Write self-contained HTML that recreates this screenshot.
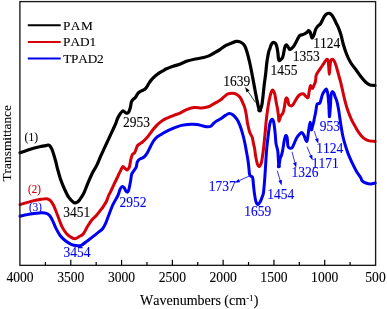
<!DOCTYPE html>
<html><head><meta charset="utf-8"><style>
html,body{margin:0;padding:0;background:#fff;width:387px;height:309px;overflow:hidden}
svg{display:block}
text{font-family:'Liberation Serif', 'Times New Roman', serif;font-kerning:none;stroke:currentColor;stroke-width:0.1px}
</style></head><body>
<svg width="387" height="309" viewBox="0 0 387 309">
<rect x="0" y="0" width="387" height="309" fill="#fff"/>
<g fill="none" stroke-linejoin="round" stroke-linecap="round">
<path d="M20.00 152.80 C20.97 152.47 23.55 151.57 25.80 150.80 C28.05 150.03 30.92 148.93 33.50 148.20 C36.08 147.47 39.25 146.83 41.30 146.40 C43.35 145.97 44.62 145.83 45.80 145.60 C46.98 145.37 47.67 144.88 48.40 145.00 C49.13 145.12 49.53 145.38 50.20 146.30 C50.87 147.22 51.50 148.05 52.40 150.50 C53.30 152.95 54.72 157.83 55.60 161.00 C56.48 164.17 56.83 166.33 57.70 169.50 C58.57 172.67 59.68 176.78 60.80 180.00 C61.92 183.22 63.10 185.93 64.40 188.80 C65.70 191.67 67.10 194.97 68.60 197.20 C70.10 199.43 72.25 201.27 73.40 202.20 C74.55 203.13 74.82 202.83 75.50 202.80 C76.18 202.77 76.80 202.52 77.50 202.00 C78.20 201.48 78.63 201.20 79.70 199.70 C80.77 198.20 82.48 195.88 83.90 193.00 C85.32 190.12 86.78 185.73 88.20 182.40 C89.62 179.07 91.00 175.80 92.40 173.00 C93.80 170.20 95.20 168.45 96.60 165.60 C98.00 162.75 99.35 159.13 100.80 155.90 C102.25 152.67 103.68 149.70 105.30 146.20 C106.92 142.70 108.75 138.72 110.50 134.90 C112.25 131.08 114.67 125.95 115.80 123.30 C116.93 120.65 116.58 120.57 117.30 119.00 C118.02 117.43 119.32 115.13 120.10 113.90 C120.88 112.67 121.43 112.08 122.00 111.60 C122.57 111.12 123.00 110.88 123.50 111.00 C124.00 111.12 124.53 111.95 125.00 112.30 C125.47 112.65 125.88 112.98 126.30 113.10 C126.72 113.22 127.12 113.15 127.50 113.00 C127.88 112.85 128.13 113.08 128.60 112.20 C129.07 111.32 129.83 109.40 130.30 107.70 C130.77 106.00 130.93 103.37 131.40 102.00 C131.87 100.63 132.43 100.25 133.10 99.50 C133.77 98.75 134.73 98.32 135.40 97.50 C136.07 96.68 136.53 95.45 137.10 94.60 C137.67 93.75 138.00 93.05 138.80 92.40 C139.60 91.75 140.90 91.22 141.90 90.70 C142.90 90.18 143.92 90.03 144.80 89.30 C145.68 88.57 146.48 87.35 147.20 86.30 C147.92 85.25 148.37 84.12 149.10 83.00 C149.83 81.88 150.70 80.65 151.60 79.60 C152.50 78.55 153.53 77.60 154.50 76.70 C155.47 75.80 156.43 74.93 157.40 74.20 C158.37 73.47 159.37 72.87 160.30 72.30 C161.23 71.73 161.97 71.38 163.00 70.80 C164.03 70.22 165.17 69.45 166.50 68.80 C167.83 68.15 168.93 67.63 171.00 66.90 C173.07 66.17 176.20 65.37 178.90 64.40 C181.60 63.43 184.43 62.00 187.20 61.10 C189.97 60.20 192.75 59.60 195.50 59.00 C198.25 58.40 201.47 58.02 203.70 57.50 C205.93 56.98 207.17 56.65 208.90 55.90 C210.63 55.15 212.20 54.10 214.10 53.00 C216.00 51.90 218.40 50.53 220.30 49.30 C222.20 48.07 223.80 46.55 225.50 45.60 C227.20 44.65 228.75 44.30 230.50 43.60 C232.25 42.90 234.40 41.68 236.00 41.40 C237.60 41.12 238.72 41.28 240.10 41.90 C241.48 42.52 243.15 43.42 244.30 45.10 C245.45 46.78 246.08 49.02 247.00 52.00 C247.92 54.98 248.83 58.65 249.80 63.00 C250.77 67.35 251.83 73.05 252.80 78.10 C253.77 83.15 254.68 88.57 255.60 93.30 C256.52 98.03 257.60 103.72 258.30 106.50 C259.00 109.28 259.18 110.37 259.80 110.00 C260.42 109.63 261.27 108.47 262.00 104.30 C262.73 100.13 263.58 90.13 264.20 85.00 C264.82 79.87 265.30 76.92 265.70 73.50 C266.10 70.08 266.28 67.15 266.60 64.50 C266.92 61.85 267.23 59.77 267.60 57.60 C267.97 55.43 268.42 53.00 268.80 51.50 C269.18 50.00 269.48 49.77 269.90 48.60 C270.32 47.43 270.82 45.50 271.30 44.50 C271.78 43.50 272.27 42.92 272.80 42.60 C273.33 42.28 273.93 42.27 274.50 42.60 C275.07 42.93 275.75 43.62 276.20 44.60 C276.65 45.58 276.92 47.10 277.20 48.50 C277.48 49.90 277.68 51.25 277.90 53.00 C278.12 54.75 278.27 57.72 278.50 59.00 C278.73 60.28 278.95 60.60 279.30 60.70 C279.65 60.80 280.12 60.00 280.60 59.60 C281.08 59.20 281.75 59.07 282.20 58.30 C282.65 57.53 282.97 56.38 283.30 55.00 C283.63 53.62 283.88 51.47 284.20 50.00 C284.52 48.53 284.83 47.07 285.20 46.20 C285.57 45.33 286.00 44.78 286.40 44.80 C286.80 44.82 287.23 45.80 287.60 46.30 C287.97 46.80 288.18 47.27 288.60 47.80 C289.02 48.33 289.32 49.67 290.10 49.50 C290.88 49.33 292.37 47.92 293.30 46.80 C294.23 45.68 294.88 44.28 295.70 42.80 C296.52 41.32 297.52 39.12 298.20 37.90 C298.88 36.68 299.13 36.03 299.80 35.50 C300.47 34.97 301.40 34.97 302.20 34.70 C303.00 34.43 303.78 34.30 304.60 33.90 C305.42 33.50 306.42 32.83 307.10 32.30 C307.78 31.77 308.17 30.67 308.70 30.70 C309.23 30.73 309.77 31.32 310.30 32.50 C310.83 33.68 311.33 37.30 311.90 37.80 C312.47 38.30 313.05 36.93 313.70 35.50 C314.35 34.07 315.10 30.77 315.80 29.20 C316.50 27.63 317.13 26.98 317.90 26.10 C318.67 25.22 319.70 24.78 320.40 23.90 C321.10 23.02 321.47 22.02 322.10 20.80 C322.73 19.58 323.43 17.77 324.20 16.60 C324.97 15.43 325.82 14.33 326.70 13.80 C327.58 13.27 328.58 13.12 329.50 13.40 C330.42 13.68 331.35 14.43 332.20 15.50 C333.05 16.57 333.87 18.38 334.60 19.80 C335.33 21.22 335.95 22.67 336.60 24.00 C337.25 25.33 337.78 26.03 338.50 27.80 C339.22 29.57 340.10 31.85 340.90 34.60 C341.70 37.35 342.37 41.07 343.30 44.30 C344.23 47.53 345.28 50.97 346.50 54.00 C347.72 57.03 349.02 59.87 350.60 62.50 C352.18 65.13 354.27 67.42 356.00 69.80 C357.73 72.18 359.37 74.72 361.00 76.80 C362.63 78.88 364.30 80.93 365.80 82.30 C367.30 83.67 368.47 84.47 370.00 85.00 C371.53 85.53 374.17 85.42 375.00 85.50" stroke="#000" stroke-width="3.2"/>
<path d="M20.00 204.60 C21.83 204.07 27.45 202.28 31.00 201.40 C34.55 200.52 38.67 199.75 41.30 199.30 C43.93 198.85 45.32 198.53 46.80 198.70 C48.28 198.87 49.10 199.25 50.20 200.30 C51.30 201.35 52.40 203.08 53.40 205.00 C54.40 206.92 55.22 209.30 56.20 211.80 C57.18 214.30 58.30 217.45 59.30 220.00 C60.30 222.55 61.02 224.87 62.20 227.10 C63.38 229.33 64.82 231.65 66.40 233.40 C67.98 235.15 70.18 236.73 71.70 237.60 C73.22 238.47 74.25 238.77 75.50 238.60 C76.75 238.43 77.88 237.42 79.20 236.60 C80.52 235.78 82.00 235.42 83.40 233.70 C84.80 231.98 86.20 228.58 87.60 226.30 C89.00 224.02 90.38 221.75 91.80 220.00 C93.22 218.25 94.68 217.38 96.10 215.80 C97.52 214.22 99.08 212.08 100.30 210.50 C101.52 208.92 102.35 207.88 103.40 206.30 C104.45 204.72 105.77 202.72 106.60 201.00 C107.43 199.28 107.58 197.85 108.40 196.00 C109.22 194.15 110.57 191.85 111.50 189.90 C112.43 187.95 113.23 185.95 114.00 184.30 C114.77 182.65 115.55 181.13 116.10 180.00 C116.65 178.87 116.83 178.50 117.30 177.50 C117.77 176.50 118.38 175.08 118.90 174.00 C119.42 172.92 119.92 171.95 120.40 171.00 C120.88 170.05 121.37 169.03 121.80 168.30 C122.23 167.57 122.47 166.58 123.00 166.60 C123.53 166.62 124.35 167.82 125.00 168.40 C125.65 168.98 126.33 170.07 126.90 170.10 C127.47 170.13 127.98 169.12 128.40 168.60 C128.82 168.08 129.00 168.50 129.40 167.00 C129.80 165.50 130.32 161.65 130.80 159.60 C131.28 157.55 131.65 155.87 132.30 154.70 C132.95 153.53 134.05 153.58 134.70 152.60 C135.35 151.62 135.72 149.98 136.20 148.80 C136.68 147.62 136.97 146.35 137.60 145.50 C138.23 144.65 139.22 144.25 140.00 143.70 C140.78 143.15 141.62 142.73 142.30 142.20 C142.98 141.67 143.27 141.32 144.10 140.50 C144.93 139.68 146.25 138.52 147.30 137.30 C148.35 136.08 149.37 134.58 150.40 133.20 C151.43 131.82 152.48 130.27 153.50 129.00 C154.52 127.73 155.47 126.67 156.50 125.60 C157.53 124.53 158.40 123.63 159.70 122.60 C161.00 121.57 162.58 120.35 164.30 119.40 C166.02 118.45 168.22 117.67 170.00 116.90 C171.78 116.13 173.33 115.42 175.00 114.80 C176.67 114.18 178.17 114.02 180.00 113.20 C181.83 112.38 183.70 110.83 186.00 109.90 C188.30 108.97 191.22 107.93 193.80 107.60 C196.38 107.27 199.43 107.95 201.50 107.90 C203.57 107.85 204.78 107.60 206.20 107.30 C207.62 107.00 208.53 106.80 210.00 106.10 C211.47 105.40 213.33 104.07 215.00 103.10 C216.67 102.13 218.45 101.38 220.00 100.30 C221.55 99.22 222.97 97.67 224.30 96.60 C225.63 95.53 226.70 94.45 228.00 93.90 C229.30 93.35 230.73 93.25 232.10 93.30 C233.47 93.35 234.85 93.50 236.20 94.20 C237.55 94.90 239.07 95.97 240.20 97.50 C241.33 99.03 242.22 101.63 243.00 103.40 C243.78 105.17 244.32 105.97 244.90 108.10 C245.48 110.23 246.03 113.50 246.50 116.20 C246.97 118.90 247.15 121.60 247.70 124.30 C248.25 127.00 249.05 130.25 249.80 132.40 C250.55 134.55 251.58 135.32 252.20 137.20 C252.82 139.08 253.10 141.82 253.50 143.70 C253.90 145.58 254.23 146.37 254.60 148.50 C254.97 150.63 255.22 153.88 255.70 156.50 C256.18 159.12 256.88 162.53 257.50 164.20 C258.12 165.87 258.75 166.77 259.40 166.50 C260.05 166.23 260.87 164.43 261.40 162.60 C261.93 160.77 262.23 157.93 262.60 155.50 C262.97 153.07 263.27 150.92 263.60 148.00 C263.93 145.08 264.30 141.00 264.60 138.00 C264.90 135.00 265.18 132.35 265.40 130.00 C265.62 127.65 265.62 126.65 265.90 123.90 C266.18 121.15 266.68 116.75 267.10 113.50 C267.52 110.25 267.87 107.42 268.40 104.40 C268.93 101.38 269.77 97.55 270.30 95.40 C270.83 93.25 271.17 92.37 271.60 91.50 C272.03 90.63 272.37 89.77 272.90 90.20 C273.43 90.63 274.27 92.17 274.80 94.10 C275.33 96.03 275.67 99.43 276.10 101.80 C276.53 104.17 277.00 105.92 277.40 108.30 C277.80 110.68 278.23 113.93 278.50 116.10 C278.77 118.27 278.63 121.30 279.00 121.30 C279.37 121.30 280.03 117.52 280.70 116.10 C281.37 114.68 282.40 114.23 283.00 112.80 C283.60 111.37 283.82 109.87 284.30 107.50 C284.78 105.13 285.35 100.00 285.90 98.60 C286.45 97.20 287.13 98.15 287.60 99.10 C288.07 100.05 288.17 103.17 288.70 104.30 C289.23 105.43 290.13 105.77 290.80 105.90 C291.47 106.03 291.97 105.92 292.70 105.10 C293.43 104.28 294.38 102.35 295.20 101.00 C296.02 99.65 296.80 98.07 297.60 97.00 C298.40 95.93 299.05 95.13 300.00 94.60 C300.95 94.07 302.35 93.53 303.30 93.80 C304.25 94.07 304.90 95.58 305.70 96.20 C306.50 96.82 307.52 98.32 308.10 97.50 C308.68 96.68 308.80 93.27 309.20 91.30 C309.60 89.33 310.00 86.17 310.50 85.70 C311.00 85.23 311.70 88.37 312.20 88.50 C312.70 88.63 312.97 87.65 313.50 86.50 C314.03 85.35 314.93 83.52 315.40 81.60 C315.87 79.68 315.68 76.87 316.30 75.00 C316.92 73.13 318.13 71.90 319.10 70.40 C320.07 68.90 321.25 67.25 322.10 66.00 C322.95 64.75 323.43 64.02 324.20 62.90 C324.97 61.78 326.03 59.62 326.70 59.30 C327.37 58.98 327.85 59.55 328.20 61.00 C328.55 62.45 328.62 65.78 328.80 68.00 C328.98 70.22 329.12 74.30 329.30 74.30 C329.48 74.30 329.68 70.13 329.90 68.00 C330.12 65.87 330.32 62.92 330.60 61.50 C330.88 60.08 331.18 59.82 331.60 59.50 C332.02 59.18 332.48 58.93 333.10 59.60 C333.72 60.27 334.60 61.77 335.30 63.50 C336.00 65.23 336.65 67.75 337.30 70.00 C337.95 72.25 338.60 74.82 339.20 77.00 C339.80 79.18 340.17 80.10 340.90 83.10 C341.63 86.10 342.87 91.83 343.60 95.00 C344.33 98.17 344.57 99.43 345.30 102.10 C346.03 104.77 346.95 108.03 348.00 111.00 C349.05 113.97 350.27 117.08 351.60 119.90 C352.93 122.72 354.82 125.82 356.00 127.90 C357.18 129.98 357.80 131.07 358.70 132.40 C359.60 133.73 360.37 134.78 361.40 135.90 C362.43 137.02 363.57 138.27 364.90 139.10 C366.23 139.93 367.70 140.52 369.40 140.90 C371.10 141.28 374.15 141.32 375.10 141.40" stroke="#d4000a" stroke-width="3"/>
<path d="M20.00 216.20 C21.77 215.85 27.07 214.67 30.60 214.10 C34.13 213.53 38.57 212.92 41.20 212.80 C43.83 212.68 45.00 212.95 46.40 213.40 C47.80 213.85 48.55 214.27 49.60 215.50 C50.65 216.73 51.65 218.68 52.70 220.80 C53.75 222.92 54.67 225.75 55.90 228.20 C57.13 230.65 58.52 233.40 60.10 235.50 C61.68 237.60 63.47 239.28 65.40 240.80 C67.33 242.32 69.90 243.80 71.70 244.60 C73.50 245.40 74.60 245.48 76.20 245.60 C77.80 245.72 79.40 246.12 81.30 245.30 C83.20 244.48 85.50 242.27 87.60 240.70 C89.70 239.13 92.13 237.30 93.90 235.90 C95.67 234.50 96.78 233.45 98.20 232.30 C99.62 231.15 101.18 230.43 102.40 229.00 C103.62 227.57 104.45 225.98 105.50 223.70 C106.55 221.42 107.47 218.47 108.70 215.30 C109.93 212.13 111.37 208.00 112.90 204.70 C114.43 201.40 116.72 198.03 117.90 195.50 C119.08 192.97 119.30 190.98 120.00 189.50 C120.70 188.02 121.40 186.88 122.10 186.60 C122.80 186.32 123.50 186.97 124.20 187.80 C124.90 188.63 125.60 191.07 126.30 191.60 C127.00 192.13 127.70 192.68 128.40 191.00 C129.10 189.32 129.97 184.25 130.50 181.50 C131.03 178.75 131.07 176.25 131.60 174.50 C132.13 172.75 132.93 172.23 133.70 171.00 C134.47 169.77 135.63 168.50 136.20 167.10 C136.77 165.70 136.70 163.78 137.10 162.60 C137.50 161.42 138.07 160.63 138.60 160.00 C139.13 159.37 139.38 159.30 140.30 158.80 C141.22 158.30 142.93 157.98 144.10 157.00 C145.27 156.02 146.25 154.62 147.30 152.90 C148.35 151.18 149.37 148.68 150.40 146.70 C151.43 144.72 152.47 142.57 153.50 141.00 C154.53 139.43 155.40 138.35 156.60 137.30 C157.80 136.25 159.30 135.57 160.70 134.70 C162.10 133.83 162.85 133.20 165.00 132.10 C167.15 131.00 170.87 129.22 173.60 128.10 C176.33 126.98 178.55 126.03 181.40 125.40 C184.25 124.77 188.12 124.45 190.70 124.30 C193.28 124.15 194.83 124.22 196.90 124.50 C198.97 124.78 201.30 125.62 203.10 126.00 C204.90 126.38 206.42 126.77 207.70 126.80 C208.98 126.83 209.77 126.82 210.80 126.20 C211.83 125.58 212.87 124.00 213.90 123.10 C214.93 122.20 215.95 121.47 217.00 120.80 C218.05 120.13 218.80 120.00 220.20 119.10 C221.60 118.20 223.90 116.32 225.40 115.40 C226.90 114.48 227.92 113.67 229.20 113.60 C230.48 113.53 231.80 114.03 233.10 115.00 C234.40 115.97 235.92 117.80 237.00 119.40 C238.08 121.00 238.73 122.43 239.60 124.60 C240.47 126.77 241.33 129.38 242.20 132.40 C243.07 135.42 244.07 139.35 244.80 142.70 C245.53 146.05 246.13 149.95 246.60 152.50 C247.07 155.05 247.30 156.17 247.60 158.00 C247.90 159.83 248.15 161.50 248.40 163.50 C248.65 165.50 248.92 168.22 249.10 170.00 C249.28 171.78 249.27 173.22 249.50 174.20 C249.73 175.18 250.02 175.43 250.50 175.90 C250.98 176.37 251.98 176.32 252.40 177.00 C252.82 177.68 252.78 178.30 253.00 180.00 C253.22 181.70 253.45 184.87 253.70 187.20 C253.95 189.53 254.13 191.62 254.50 194.00 C254.87 196.38 255.33 199.77 255.90 201.50 C256.47 203.23 257.15 204.40 257.90 204.40 C258.65 204.40 259.67 202.80 260.40 201.50 C261.13 200.20 261.82 197.90 262.30 196.60 C262.78 195.30 263.03 195.00 263.30 193.70 C263.57 192.40 263.67 191.23 263.90 188.80 C264.13 186.37 264.42 182.98 264.70 179.10 C264.98 175.22 265.28 170.35 265.60 165.50 C265.92 160.65 266.17 155.00 266.60 150.00 C267.03 145.00 267.67 139.85 268.20 135.50 C268.73 131.15 269.18 126.58 269.80 123.90 C270.42 121.22 271.25 119.70 271.90 119.40 C272.55 119.10 273.17 119.87 273.70 122.10 C274.23 124.33 274.72 129.23 275.10 132.80 C275.48 136.37 275.57 140.53 276.00 143.50 C276.43 146.47 277.32 148.10 277.70 150.60 C278.08 153.10 278.12 155.90 278.30 158.50 C278.48 161.10 278.58 165.62 278.80 166.20 C279.02 166.78 279.35 163.40 279.60 162.00 C279.85 160.60 280.02 158.82 280.30 157.80 C280.58 156.78 280.92 157.10 281.30 155.90 C281.68 154.70 282.08 153.27 282.60 150.60 C283.12 147.93 283.87 142.42 284.40 139.90 C284.93 137.38 285.33 135.80 285.80 135.50 C286.27 135.20 286.85 136.35 287.20 138.10 C287.55 139.85 287.53 144.37 287.90 146.00 C288.27 147.63 288.72 147.58 289.40 147.90 C290.08 148.22 291.27 148.48 292.00 147.90 C292.73 147.32 293.05 146.03 293.80 144.40 C294.55 142.77 295.62 139.73 296.50 138.10 C297.38 136.47 298.22 135.52 299.10 134.60 C299.98 133.68 301.00 132.48 301.80 132.60 C302.60 132.72 303.22 134.02 303.90 135.30 C304.58 136.58 305.35 139.43 305.90 140.30 C306.45 141.17 306.72 142.27 307.20 140.50 C307.68 138.73 308.32 132.73 308.80 129.70 C309.28 126.67 309.75 122.45 310.10 122.30 C310.45 122.15 310.63 127.58 310.90 128.80 C311.17 130.02 311.43 130.02 311.70 129.60 C311.97 129.18 312.15 127.65 312.50 126.30 C312.85 124.95 313.45 123.02 313.80 121.50 C314.15 119.98 314.28 118.78 314.60 117.20 C314.92 115.62 315.30 114.15 315.70 112.00 C316.10 109.85 316.38 105.72 317.00 104.30 C317.62 102.88 318.82 103.97 319.40 103.50 C319.98 103.03 320.00 102.97 320.50 101.50 C321.00 100.03 321.65 96.58 322.40 94.70 C323.15 92.82 324.30 91.08 325.00 90.20 C325.70 89.32 326.13 88.77 326.60 89.40 C327.07 90.03 327.43 91.50 327.80 94.00 C328.17 96.50 328.53 100.63 328.80 104.40 C329.07 108.17 329.15 116.00 329.40 116.60 C329.65 117.20 330.02 111.65 330.30 108.00 C330.58 104.35 330.75 97.43 331.10 94.70 C331.45 91.97 331.92 91.80 332.40 91.60 C332.88 91.40 333.55 92.63 334.00 93.50 C334.45 94.37 334.62 95.48 335.10 96.80 C335.58 98.12 336.32 99.27 336.90 101.40 C337.48 103.53 338.12 106.88 338.60 109.60 C339.08 112.32 339.37 114.80 339.80 117.70 C340.23 120.60 340.73 124.12 341.20 127.00 C341.67 129.88 342.05 132.38 342.60 135.00 C343.15 137.62 343.62 139.68 344.50 142.70 C345.38 145.72 346.68 149.87 347.90 153.10 C349.12 156.33 350.38 159.08 351.80 162.10 C353.22 165.12 354.90 168.60 356.40 171.20 C357.90 173.80 359.87 176.12 360.80 177.70 C361.73 179.28 361.17 179.82 362.00 180.70 C362.83 181.58 364.35 182.45 365.80 183.00 C367.25 183.55 369.13 184.00 370.70 184.00 C372.27 184.00 374.45 183.17 375.20 183.00" stroke="#0000f0" stroke-width="3"/>
</g>
<rect x="19.9" y="1.6" width="355.7" height="263.75" fill="none" stroke="#1a1a1a" stroke-width="1.35"/>
<g stroke="#000" stroke-width="1.2"><line x1="350.11" y1="265.3" x2="350.11" y2="262.0"/><line x1="324.71" y1="265.3" x2="324.71" y2="259.8"/><line x1="299.32" y1="265.3" x2="299.32" y2="262.0"/><line x1="273.93" y1="265.3" x2="273.93" y2="259.8"/><line x1="248.54" y1="265.3" x2="248.54" y2="262.0"/><line x1="223.14" y1="265.3" x2="223.14" y2="259.8"/><line x1="197.75" y1="265.3" x2="197.75" y2="262.0"/><line x1="172.36" y1="265.3" x2="172.36" y2="259.8"/><line x1="146.96" y1="265.3" x2="146.96" y2="262.0"/><line x1="121.57" y1="265.3" x2="121.57" y2="259.8"/><line x1="96.18" y1="265.3" x2="96.18" y2="262.0"/><line x1="70.79" y1="265.3" x2="70.79" y2="259.8"/><line x1="45.39" y1="265.3" x2="45.39" y2="262.0"/></g>
<g font-size="13.6" fill="#000"><text x="375.50" y="281.8" text-anchor="middle">500</text><text x="324.71" y="281.8" text-anchor="middle">1000</text><text x="273.93" y="281.8" text-anchor="middle">1500</text><text x="223.14" y="281.8" text-anchor="middle">2000</text><text x="172.36" y="281.8" text-anchor="middle">2500</text><text x="121.57" y="281.8" text-anchor="middle">3000</text><text x="70.79" y="281.8" text-anchor="middle">3500</text><text x="20.00" y="281.8" text-anchor="middle">4000</text></g>
<text x="140" y="305.1" font-size="14" fill="#000">Wavenumbers (cm<tspan font-size="9" dy="-3.8">-1</tspan><tspan dy="3.8">)</tspan></text>
<text transform="translate(10.9,181.6) rotate(-90)" font-size="13.4" fill="#000">Transmittance</text>
<g stroke-width="2">
<line x1="27.8" y1="25.2" x2="60.7" y2="25.2" stroke="#000"/>
<line x1="27.8" y1="41.9" x2="60.7" y2="41.9" stroke="#d4000a"/>
<line x1="27.8" y1="58.6" x2="60.7" y2="58.6" stroke="#0000f0"/>
</g>
<g font-size="13.3" fill="#000">
<text x="63.0" y="29.6" letter-spacing="0.45">PAM</text>
<text x="63.0" y="46.2">PAD1</text>
<text x="63.2" y="62.9" letter-spacing="-0.2">TPAD2</text>
</g>
<text transform="translate(24.6 141.1) scale(1 1.05)" fill="#000" color="#000" font-size="11.5">(1)</text><text transform="translate(28.0 193.2) scale(1 1.05)" fill="#d4000a" color="#d4000a" font-size="11">(2)</text><text transform="translate(29.1 211.3) scale(1 1.05)" fill="#0000f0" color="#0000f0" font-size="11">(3)</text><text transform="translate(123.0 127.3) scale(1 1.05)" fill="#000" color="#000" font-size="13.5">2953</text><text transform="translate(63.3 216.9) scale(1 1.05)" fill="#000" color="#000" font-size="13.5">3451</text><text transform="translate(63.5 256.5) scale(1 1.05)" fill="#0000f0" color="#0000f0" font-size="13.5">3454</text><text transform="translate(119.5 206.5) scale(1 1.05)" fill="#0000f0" color="#0000f0" font-size="13.5">2952</text><text transform="translate(223.2 86.1) scale(1 1.05)" fill="#000" color="#000" font-size="13.5">1639</text><text transform="translate(270.5 75.3) scale(1 1.05)" fill="#000" color="#000" font-size="13.5">1455</text><text transform="translate(292.8 61.1) scale(1 1.05)" fill="#000" color="#000" font-size="13.5">1353</text><text transform="translate(313.2 47.8) scale(1 1.05)" fill="#000" color="#000" font-size="13.5">1124</text><text transform="translate(208.7 191.1) scale(1 1.05)" fill="#0000f0" color="#0000f0" font-size="13.5">1737</text><text transform="translate(244.2 216.3) scale(1 1.05)" fill="#0000f0" color="#0000f0" font-size="13.5">1659</text><text transform="translate(267.3 198.8) scale(1 1.05)" fill="#0000f0" color="#0000f0" font-size="13.5">1454</text><text transform="translate(291.5 177.1) scale(1 1.05)" fill="#0000f0" color="#0000f0" font-size="13.5">1326</text><text transform="translate(311.7 168.1) scale(1 1.05)" fill="#0000f0" color="#0000f0" font-size="13.5">1171</text><text transform="translate(316.2 153.4) scale(1 1.05)" fill="#0000f0" color="#0000f0" font-size="13.5">1124</text><text transform="translate(319.8 130.8) scale(1 1.05)" fill="#0000f0" color="#0000f0" font-size="13.5">953</text>
<line x1="255.4" y1="102.4" x2="248.08" y2="91.56" stroke="#000" stroke-width="0.8"/><polygon points="245.0,87.0 249.57,90.55 246.59,92.57" fill="#000"/><line x1="249.6" y1="175.9" x2="239.41" y2="180.53" stroke="#0000f0" stroke-width="0.8"/><polygon points="234.4,182.8 238.66,178.89 240.15,182.17" fill="#0000f0"/><line x1="277.3" y1="170.8" x2="280.13" y2="180.33" stroke="#0000f0" stroke-width="0.8"/><polygon points="281.7,185.6 278.41,180.84 281.86,179.82" fill="#0000f0"/><line x1="292.0" y1="151.8" x2="294.80" y2="162.48" stroke="#0000f0" stroke-width="0.8"/><polygon points="296.2,167.8 293.06,162.94 296.54,162.02" fill="#0000f0"/><line x1="307.0" y1="146.7" x2="310.60" y2="155.42" stroke="#0000f0" stroke-width="0.8"/><polygon points="312.7,160.5 308.94,156.10 312.26,154.73" fill="#0000f0"/><line x1="314.3" y1="131.2" x2="316.70" y2="138.57" stroke="#0000f0" stroke-width="0.8"/><polygon points="318.4,143.8 314.99,139.13 318.41,138.01" fill="#0000f0"/>
<circle cx="259.7" cy="110.2" r="2.3" fill="#000"/>
<circle cx="278.8" cy="166.4" r="1.9" fill="#0000f0"/>
</svg>
</body></html>
